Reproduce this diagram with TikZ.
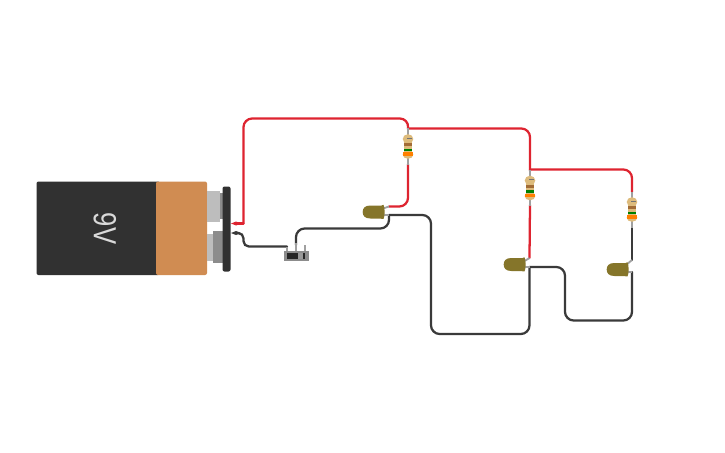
\documentclass[tikz,border=0pt]{standalone}
\usepackage{fontspec}
\setmainfont{Liberation Sans}
\definecolor{wred}{HTML}{DE2430}
\definecolor{wblack}{HTML}{3A3A3A}
\definecolor{batd}{HTML}{313131}
\definecolor{bato}{HTML}{D08C52}
\definecolor{ledc}{HTML}{85752A}
\definecolor{pin}{HTML}{A0A0A0}
\definecolor{rbody}{HTML}{DDBB7C}
\tikzset{
  redw/.style={draw=wred,line width=1.7pt,rounded corners=6.5pt,line cap=round},
  blkw/.style={draw=wblack,line width=1.7pt,rounded corners=6.5pt,line cap=round},
  pinw/.style={draw=pin,line width=1.4pt},
  resistor/.pic={
    \draw[draw=pin,line width=1.4pt] (0,-18)--(0,18);
    \fill[rbody] (-4,-9) rectangle (4,9);
    \fill[rbody] (0,-7.5) ellipse (5.3 and 4.8);
    \fill[rbody] (0,8) ellipse (5.3 and 4.3);
    \fill[black!55] (-1,-8.6) rectangle (3.5,-8);
    \fill[brown!85!black] (-4,-3.2) rectangle (4,-0.5);
    \fill[green!50!black] (-4,2) rectangle (4,4.5);
    \fill[orange] (-5.3,5.8) rectangle (5.3,9);
  },
  led/.pic={
    \fill[ledc] (-3,-6.5) -- (8,-6.5) -- (10,-7.2) .. controls (11.5,-5) and (11.5,5) .. (10,6.8) -- (-3,6.5)
      .. controls (-9,6.5) and (-10.8,3.5) .. (-10.8,0) .. controls (-10.8,-3.5) and (-9,-6.5) .. (-3,-6.5) -- cycle;
  }
}
\begin{document}
\begin{tikzpicture}[x=0.75pt,y=-0.75pt]
\useasboundingbox (0,0) rectangle (725,453);
% battery
\fill[batd,rounded corners=1.5pt] (36.5,181.5) rectangle (160,275);
\fill[bato,rounded corners=1.5pt] (156,181.5) rectangle (207,275);
\node[rotate=-90,text=white!85!black,font=\fontsize{24pt}{26pt}\selectfont,inner sep=0pt] (volt) at (105,228.5) {\scalebox{0.8}[1]{9V}};
\fill[white!74!black] (207,190.5) rectangle (219.5,221.5);
\fill[white!55!black] (219.5,193) rectangle (224,218.5);
\fill[white!74!black] (207,233.5) rectangle (213,261);
\fill[white!55!black] (212.5,231) rectangle (224,263);
\fill[batd,rounded corners=1.5pt] (222.5,186.5) rectangle (230.5,271.5);
% named terminals
\coordinate (batp) at (236,223.5);
\coordinate (batn) at (236,233);
\coordinate (r1t) at (408,129);
\coordinate (r1b) at (408,164);
\coordinate (r2t) at (530,171);
\coordinate (r2b) at (530,205);
\coordinate (r3t) at (632,192);
\coordinate (r3b) at (632,226);
\coordinate (l1a) at (389,206.5);
\coordinate (l1c) at (389,215);
\coordinate (l2a) at (529.5,258);
\coordinate (l2c) at (529.5,267);
\coordinate (l3a) at (632,260);
\coordinate (l3c) at (632,272);
\coordinate (swa) at (287,246.5);
\coordinate (swb) at (296,245);
% wires
\draw[redw] (batp) -- (243.5,223.5);
\draw[redw] (243.5,223.5) -- (243.5,118.5) -- (408.5,118.5) -- (r1t);
\draw[redw] (408.5,128.5) -- (530,128.5) -- (r2t);
\draw[redw] (530,169.5) -- (632,169.5) -- (r3t);
\draw[redw] (r1b) -- (408,206.5) -- (l1a);
\draw[redw] (r2b) -- (l2a);
\draw[blkw] (r3b) -- (l3a);
\draw[blkw,rounded corners=4pt] (batn) -- (243.5,233) -- (243.5,246.5) -- (swa);
\draw[blkw] (swb) -- (296,228.5) -- (389,228.5) -- (l1c);
\draw[blkw] (l1c) -- (431,215) -- (431,334) -- (529.5,334) -- (l2c);
\draw[blkw] (l2c) -- (565,267) -- (565,320.5) -- (632,320.5) -- (l3c);
% battery clips
\fill[wred] (231,223.5) -- (236,221.5) -- (241,223.5) -- (236,225.5) -- cycle;
\fill[wblack] (231,233) -- (236,231) -- (241,233) -- (236,235) -- cycle;
% LED pins
\coordinate (p1a) at (383,208.5);
\coordinate (p1c) at (383,215);
\coordinate (p2a) at (523,262);
\coordinate (p2c) at (523,267);
\coordinate (p3a) at (626,265);
\coordinate (p3c) at (626,272);
\draw[pinw] (p1a) -- (l1a);
\draw[pinw] (p1c) -- (l1c);
\draw[pinw] (p2a) -- (l2a);
\draw[pinw] (p2c) -- (l2c);
\draw[pinw] (p3a) -- (l3a);
\draw[pinw] (p3c) -- (l3c);
% parts
\pic at (408,146.5) {resistor};
\pic at (530,188) {resistor};
\pic at (632,209.5) {resistor};
\pic at (373.5,212) {led};
\pic at (514.5,264.5) {led};
\pic at (617.5,269.5) {led};
% switch
\draw[pinw] (287,246.5) -- (287,251.5);
\draw[pinw] (296,243) -- (296,251.5);
\draw[pinw] (305,245) -- (305,251.5);
\fill[white!55!black] (283.5,251) rectangle (308.5,260.5);
\fill[black!85] (287,253) rectangle (305,259);
\fill[white!60!black] (298,253) rectangle (303,259);
\end{tikzpicture}
\end{document}
